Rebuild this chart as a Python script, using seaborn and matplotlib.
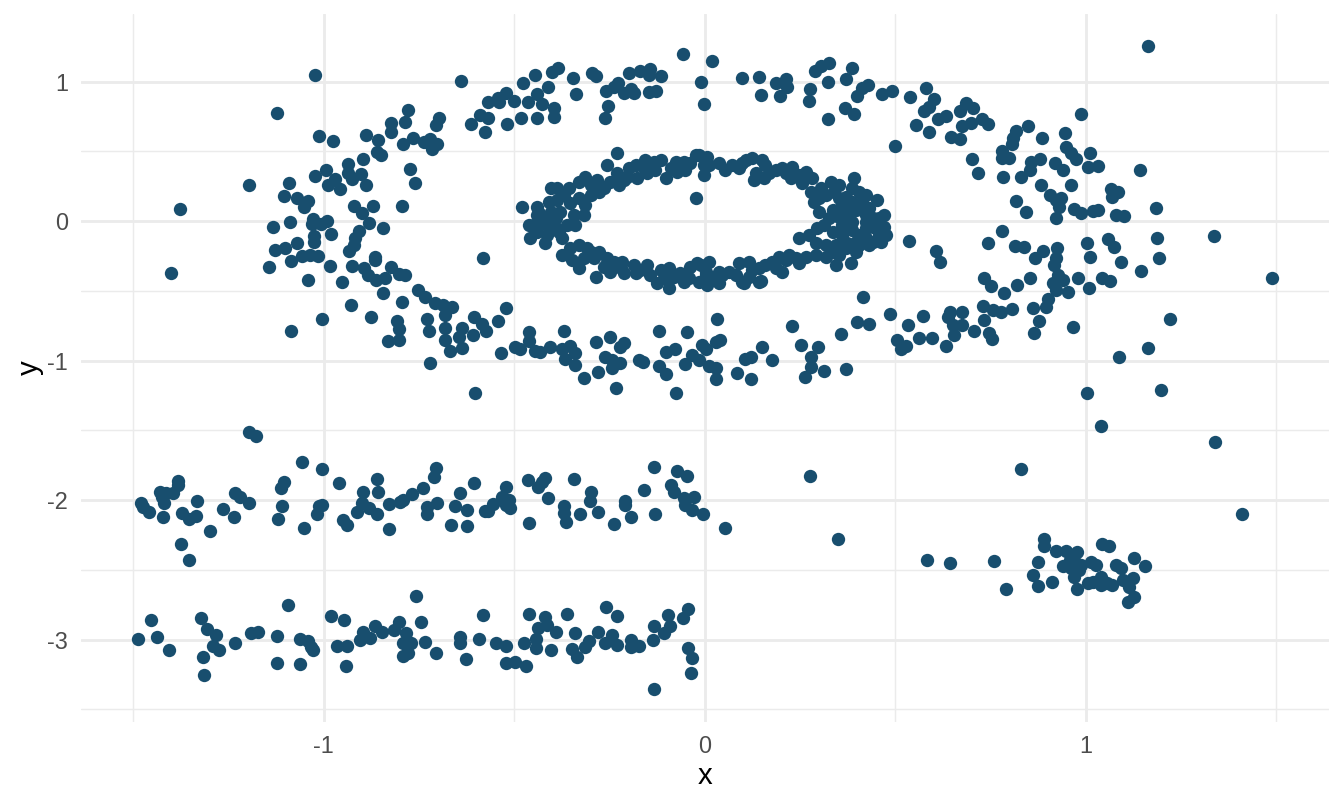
#!/usr/bin/env python3
# coding: utf-8
import pandas as pd
import seaborn as sns
import matplotlib.pyplot as plt

# ------------------------------------------------
# Data
# ------------------------------------------------
outer_ring = [
    (-1.022, 1.047), (-1.123, 0.776), (-1.014, 0.609), (-0.975, 0.573), (-0.640, 1.006), (-0.570, 0.855),
    (-0.543, 0.880), (-0.521, 0.915), (-0.590, 0.760), (-0.613, 0.695), (-0.576, 0.640), (-0.568, 0.740),
    (-0.520, 0.695), (-0.778, 0.796), (-0.787, 0.712), (-0.823, 0.700), (-0.823, 0.640), (-0.697, 0.740),
    (-0.706, 0.688), (-0.890, 0.616), (-0.859, 0.581), (-0.791, 0.550), (-0.765, 0.593), (-0.738, 0.568),
    (-0.721, 0.588), (-0.703, 0.550), (-0.715, 0.516), (-0.861, 0.497), (-0.851, 0.473), (-0.896, 0.442),
    (-0.936, 0.406), (-0.995, 0.366), (-1.023, 0.325), (-0.936, 0.342), (-0.902, 0.337), (-0.927, 0.299),
    (-0.971, 0.299), (-0.988, 0.258), (-0.957, 0.227), (-0.890, 0.258), (-0.775, 0.371), (-0.762, 0.270),
    (-0.794, 0.110), (-1.091, 0.275), (-1.197, 0.258), (-1.105, 0.181), (-1.071, 0.167), (-1.041, 0.146),
    (-1.051, 0.103), (-0.921, 0.110), (-0.872, 0.108), (-0.899, 0.060), (-1.089, -0.005), (-1.133, -0.045),
    (-1.028, 0.014), (-1.032, -0.024), (-0.993, 0.000), (-1.007, -0.024), (-0.881, -0.012), (-0.844, -0.052),
    (-0.980, -0.093), (-1.026, -0.105), (-1.025, -0.153), (-1.071, -0.160), (-1.102, -0.196), (-1.128, -0.208),
    (-0.909, -0.070), (-0.918, -0.124), (-0.922, -0.172), (-0.934, -0.215), (-0.865, -0.256), (-1.057, -0.249),
    (-1.036, -0.244), (-1.016, -0.251), (-1.086, -0.287),
    (-1.144, -0.332), (-1.041, -0.423), (-0.984, -0.323), (-0.953, -0.435), (-0.925, -0.323), (-0.894, -0.339),
    (-0.885, -0.387), (-0.863, -0.423), (-0.839, -0.411), (-0.824, -0.332), (-0.802, -0.380), (-0.787, -0.387),
    (-0.846, -0.518), (-0.929, -0.602), (-0.876, -0.686), (-1.004, -0.705), (-1.086, -0.786), (-0.794, -0.583),
    (-0.752, -0.495), (-0.734, -0.547), (-0.708, -0.586), (-0.686, -0.602), (-0.664, -0.614), (-0.681, -0.674),
    (-0.730, -0.702), (-0.725, -0.786), (-0.681, -0.765), (-0.683, -0.853), (-0.668, -0.930), (-0.638, -0.908),
    (-0.644, -0.829), (-0.638, -0.765), (-0.607, -0.686), (-0.585, -0.738), (-0.575, -0.786), (-0.609, -0.817),
    (-0.543, -0.717), (-0.534, -0.948), (-0.521, -0.621), (-0.809, -0.717), (-0.802, -0.776), (-0.832, -0.860),
    (-0.804, -0.853), (-0.721, -1.016), (-0.867, -0.280),
    (-0.541, 0.855), (-0.502, 0.860), (-0.482, 0.736), (-0.478, 0.991), (-0.464, 0.855), (-0.445, 1.047),
    (-0.441, 0.910), (-0.428, 0.839), (-0.412, 0.963), (-0.441, 0.736), (-0.397, 0.808), (-0.397, 0.748),
    (-0.401, 1.070), (-0.386, 1.095), (-0.347, 1.027), (-0.338, 0.910), (-0.296, 1.063), (-0.287, 1.042),
    (-0.259, 0.932), (-0.255, 0.824), (-0.261, 0.740), (-0.239, 0.963), (-0.228, 0.987), (-0.213, 0.915),
    (-0.200, 1.059), (-0.195, 0.944), (-0.187, 0.920), (-0.169, 1.077), (-0.145, 1.087), (-0.147, 1.047),
    (-0.115, 1.039), (-0.147, 0.923), (-0.128, 0.932), (-0.058, 1.195), (0.019, 1.149), (-0.011, 0.994),
    (-0.001, 0.837), (0.098, 1.027), (0.142, 1.030), (0.146, 0.903), (0.186, 0.987), (0.196, 0.898),
    (0.214, 1.018), (0.216, 0.963), (0.275, 0.944), (0.273, 0.860), (0.289, 1.075), (0.304, 1.111),
    (0.326, 1.130), (0.324, 0.999), (0.387, 1.095), (0.370, 1.016), (0.398, 0.898), (0.413, 0.956),
    (0.428, 0.975), (0.464, 0.910), (0.492, 0.934), (0.538, 0.891), (0.580, 0.956), (0.323, 0.729),
    (0.367, 0.808), (0.392, 0.765), (0.555, 0.688), (0.576, 0.789), (0.587, 0.640), (0.499, 0.540),
    (0.602, 0.875), (0.589, 0.820), (0.613, 0.731), (0.633, 0.753), (0.646, 0.604), (0.669, 0.588),
    (0.669, 0.789), (0.685, 0.844), (0.704, 0.808), (0.675, 0.683), (0.698, 0.700), (0.727, 0.731),
    (0.742, 0.693), (0.817, 0.645), (0.808, 0.593), (0.806, 0.550), (0.847, 0.683), (0.886, 0.593),
    (0.945, 0.629), (0.987, 0.767), (0.779, 0.504), (0.781, 0.449), (0.799, 0.449), (0.701, 0.444),
    (0.717, 0.342), (0.783, 0.313), (0.830, 0.313), (0.856, 0.425), (0.880, 0.442), (0.852, 0.366),
    (0.920, 0.414), (0.941, 0.366), (0.948, 0.528), (0.961, 0.485), (0.974, 0.444), (1.011, 0.485),
    (1.005, 0.385), (1.033, 0.396), (0.882, 0.258), (0.961, 0.258), (0.817, 0.146), (0.844, 0.067),
    (0.906, 0.186), (0.922, 0.151), (0.935, 0.163), (0.930, 0.098), (0.922, 0.024), (0.970, 0.084),
    (0.987, 0.055), (1.018, 0.072), (1.031, 0.079), (1.066, 0.229), (1.084, 0.210), (1.068, 0.174),
    (1.078, 0.043), (1.101, 0.038), (1.141, 0.366), (1.185, 0.095), (0.744, -0.156), (0.780, -0.070),
    (0.815, -0.179), (0.837, -0.184), (0.867, -0.267), (0.888, -0.215), (0.923, -0.191), (0.922, -0.267),
    (0.606, -0.215), (0.617, -0.292), (1.002, -0.160), (1.011, -0.256), (1.059, -0.129), (1.075, -0.184),
    (1.091, -0.292), (1.187, -0.120), (1.191, -0.267),
    (0.917, -0.315), (1.145, -0.358), (0.733, -0.411), (0.751, -0.464), (0.786, -0.518), (0.819, -0.459),
    (0.852, -0.411), (0.913, -0.447), (0.926, -0.387), (0.939, -0.423), (0.922, -0.495), (0.952, -0.511),
    (0.980, -0.406), (1.009, -0.478), (1.043, -0.411), (1.062, -0.428), (0.901, -0.561), (0.895, -0.619),
    (0.860, -0.626), (0.878, -0.717), (0.863, -0.801), (0.806, -0.631), (0.777, -0.650), (0.755, -0.638),
    (0.729, -0.609), (0.733, -0.710), (0.707, -0.786), (0.676, -0.650), (0.676, -0.746), (0.654, -0.817),
    (0.643, -0.650), (0.637, -0.686), (0.650, -0.746), (0.633, -0.896), (0.573, -0.679), (0.597, -0.837),
    (0.562, -0.837), (0.746, -0.805), (0.753, -0.846), (0.967, -0.758), (1.088, -0.973),
    (-0.498, -0.905), (-0.484, -0.920), (-0.461, -0.794), (-0.461, -0.860), (-0.445, -0.932), (-0.432, -0.937),
    (-0.406, -0.901), (-0.371, -0.786), (-0.375, -0.920), (-0.353, -0.896), (-0.366, -0.991), (-0.340, -0.948),
    (-0.342, -1.032), (-0.316, -1.128), (-0.285, -0.865), (-0.281, -1.085), (-0.248, -0.829), (-0.261, -0.977),
    (-0.244, -0.996), (-0.244, -1.052), (-0.222, -1.020), (-0.222, -0.905), (-0.213, -0.877), (-0.232, -1.195),
    (-0.173, -0.996), (-0.163, -1.009), (-0.121, -0.789), (-0.121, -1.039), (-0.103, -0.937), (-0.101, -1.097),
    (-0.079, -0.920), (-0.077, -1.235), (-0.047, -0.798), (-0.051, -1.025), (-0.033, -0.961), (-0.016, -0.996),
    (-0.007, -0.889), (0.002, -0.920), (0.012, -1.039), (0.032, -0.705), (0.030, -0.865), (0.041, -0.853),
    (0.030, -1.056), (0.030, -1.133), (0.085, -1.092), (0.105, -0.991), (0.120, -0.973), (0.120, -1.133),
    (0.149, -0.901), (0.177, -0.996), (0.229, -0.751), (0.252, -0.889), (0.278, -0.973), (0.279, -1.049),
    (0.262, -1.120), (0.298, -0.905), (0.313, -1.073), (0.370, -1.063), (0.357, -0.810), (0.398, -0.726),
    (0.415, -0.543), (0.431, -0.738), (0.486, -0.667), (0.505, -0.853), (0.514, -0.920), (0.527, -0.896),
    (0.534, -0.746),
]

inner_ring = [
    (-0.480, 0.103), (-0.441, 0.103), (-0.436, 0.055), (-0.449, -0.029), (-0.458, -0.124), (-0.441, -0.076),
    (-0.419, -0.160), (-0.414, -0.029), (-0.423, 0.031), (-0.405, 0.067), (-0.410, 0.139), (-0.388, 0.151),
    (-0.405, 0.239), (-0.388, 0.234), (-0.371, 0.186), (-0.357, 0.234), (-0.353, 0.127), (-0.344, 0.043),
    (-0.340, -0.029), (-0.318, 0.043), (-0.314, 0.115), (-0.331, 0.282), (-0.314, 0.318), (-0.300, 0.258),
    (-0.283, 0.294), (-0.279, 0.210), (-0.257, 0.401), (-0.248, 0.282), (-0.230, 0.485), (-0.230, 0.342),
    (-0.226, 0.258), (-0.204, 0.318), (-0.200, 0.378), (-0.182, 0.401), (-0.178, 0.306), (-0.156, 0.437),
    (-0.152, 0.342), (-0.130, 0.366), (-0.116, 0.437), (-0.103, 0.306), (-0.090, 0.378), (-0.077, 0.425),
    (-0.055, 0.425), (-0.051, 0.366), (-0.024, 0.473), (-0.003, 0.401), (-0.003, 0.330),
    (-0.462, -0.029), (-0.432, -0.005), (-0.392, 0.019), (-0.384, -0.076), (-0.375, -0.124), (-0.375, -0.244),
    (-0.353, -0.196), (-0.349, -0.280), (-0.331, -0.172), (-0.331, -0.339), (-0.318, -0.268), (-0.309, -0.196),
    (-0.292, -0.268), (-0.287, -0.399), (-0.279, -0.220), (-0.265, -0.327), (-0.257, -0.268), (-0.239, -0.291),
    (-0.248, -0.363), (-0.217, -0.291), (-0.213, -0.375), (-0.187, -0.315), (-0.182, -0.375), (-0.152, -0.315),
    (-0.143, -0.387), (-0.125, -0.447), (-0.116, -0.351), (-0.095, -0.339), (-0.095, -0.483), (-0.081, -0.399),
    (-0.064, -0.375), (-0.042, -0.411), (-0.038, -0.327), (-0.016, -0.435), (-0.020, -0.303), (0.002, -0.363),
    (0.006, -0.459),
    (-0.392, -0.053), (-0.362, -0.029), (-0.414, -0.100), (-0.441, 0.043), (-0.381, 0.067), (-0.331, 0.163),
    (-0.300, 0.186), (-0.265, 0.234), (-0.213, 0.294), (-0.160, 0.378), (-0.134, 0.425), (-0.072, 0.354),
    (-0.038, 0.413), (-0.300, -0.220), (-0.257, -0.303), (-0.221, -0.339), (-0.169, -0.351), (-0.108, -0.411),
    (-0.055, -0.435),
    (-0.016, 0.473), (0.006, 0.461), (0.037, 0.413), (0.054, 0.366), (0.072, 0.401), (0.089, 0.378),
    (0.107, 0.437), (0.124, 0.449), (0.133, 0.342), (0.129, 0.294), (0.151, 0.437), (0.155, 0.306),
    (0.159, 0.401), (0.186, 0.366), (0.203, 0.378), (0.225, 0.306), (0.229, 0.389), (0.247, 0.330),
    (0.256, 0.270), (0.265, 0.354), (0.282, 0.306), (0.278, 0.210), (0.286, 0.139), (0.304, 0.234),
    (0.317, 0.186), (0.330, 0.282), (0.339, 0.210), (0.352, 0.258), (0.370, 0.174), (0.392, 0.306),
    (0.405, 0.210), (0.413, 0.139), (0.431, 0.091), (0.453, 0.151), (0.470, 0.043), (0.335, 0.079),
    (0.352, 0.031), (0.378, 0.067), (0.396, 0.079), (0.370, -0.005), (0.300, 0.067), (0.326, 0.019),
    (0.360, 0.115), (0.387, 0.234), (0.422, 0.043), (0.440, 0.019),
    (0.011, 0.401), (0.098, 0.413), (0.168, 0.342), (0.212, 0.342), (0.300, 0.163), (0.352, 0.163),
    (0.387, 0.139), (0.422, 0.186), (0.457, 0.019), (0.422, -0.005), (0.387, -0.005), (0.440, -0.148),
    (0.370, -0.196), (0.396, -0.220), (0.247, -0.303), (0.186, -0.339), (0.116, -0.291), (0.037, -0.363),
    (0.221, -0.244),
    (0.247, -0.119), (0.295, -0.053), (0.313, -0.029), (0.335, -0.076), (0.361, -0.100), (0.387, -0.065),
    (0.405, -0.100), (0.422, -0.053), (0.440, -0.041), (0.457, -0.100), (0.470, -0.041), (0.475, -0.100),
    (0.462, -0.148), (0.291, -0.160), (0.317, -0.172), (0.343, -0.172), (0.374, -0.160), (0.405, -0.172),
    (0.431, -0.172), (0.383, -0.303), (0.352, -0.244), (0.335, -0.220), (0.317, -0.256), (0.291, -0.244),
    (0.265, -0.256), (0.238, -0.268), (0.212, -0.280), (0.194, -0.256), (0.203, -0.363), (0.177, -0.291),
    (0.159, -0.315), (0.142, -0.339), (0.124, -0.351), (0.142, -0.435), (0.116, -0.399), (0.098, -0.435),
    (0.089, -0.303), (0.081, -0.387), (0.063, -0.363), (0.045, -0.387), (0.037, -0.447), (0.019, -0.411),
    (0.011, -0.291), (0.002, -0.387), (-0.011, -0.315), (0.396, -0.148), (0.422, -0.124), (0.361, -0.029),
    (0.273, -0.100), (0.343, -0.315), (0.146, -0.428), (0.102, -0.447),
]

band_2 = [
    (-1.479, -2.019), (-1.474, -2.048), (-1.459, -2.084), (-1.430, -1.941), (-1.426, -1.976), (-1.419, -2.019),
    (-1.413, -1.952), (-1.396, -1.952), (-1.384, -1.862), (-1.384, -1.892), (-1.422, -2.124), (-1.372, -2.091),
    (-1.354, -2.138), (-1.336, -2.115), (-1.332, -2.007), (-1.376, -2.318), (-1.353, -2.430), (-1.298, -2.220),
    (-1.264, -2.065), (-1.235, -2.120), (-1.234, -1.948), (-1.220, -1.981), (-1.196, -2.024), (-1.121, -2.138),
    (-1.109, -2.043), (-1.113, -1.912), (-1.104, -1.873), (-1.057, -1.725), (-1.006, -1.778), (-1.052, -2.203),
    (-1.017, -2.100), (-1.014, -2.043), (-1.006, -2.036), (-0.960, -1.880), (-0.949, -2.143), (-0.940, -2.179),
    (-0.914, -2.084), (-0.901, -2.024), (-0.896, -1.945), (-0.881, -2.060), (-0.861, -2.100), (-0.861, -1.849),
    (-0.859, -1.941), (-0.830, -2.208), (-0.828, -2.029), (-0.800, -2.012), (-0.791, -2.000), (-0.769, -1.959),
    (-0.740, -1.916), (-0.728, -2.052), (-0.728, -2.102), (-0.710, -1.837), (-0.705, -1.773), (-0.702, -2.024),
    (-0.667, -2.179), (-0.655, -2.043), (-0.642, -1.952), (-0.625, -2.072), (-0.625, -2.186), (-0.605, -1.876),
    (-0.576, -2.079), (-0.568, -2.079), (-0.557, -2.029), (-0.533, -1.976), (-0.521, -1.909), (-0.521, -2.036),
    (-0.533, -2.000), (-0.515, -2.000), (-0.511, -2.060), (-0.464, -1.857), (-0.461, -2.167), (-0.438, -1.904),
    (-0.428, -1.869), (-0.420, -1.840), (-0.412, -1.988), (-0.371, -2.043), (-0.371, -2.091), (-0.364, -2.160),
    (-0.344, -1.849), (-0.327, -2.100), (-0.301, -2.005), (-0.298, -1.941), (-0.280, -2.084), (-0.239, -2.172),
    (-0.210, -2.005), (-0.210, -2.036), (-0.195, -2.120), (-0.160, -1.928), (-0.134, -1.766), (-0.130, -2.100),
    (-0.088, -1.892), (-0.081, -1.941), (-0.073, -1.792), (-0.055, -1.988), (-0.047, -1.826), (-0.053, -2.036),
    (-0.029, -1.976), (-0.035, -2.072), (-0.005, -2.100),
]

band_3 = [
    (-1.488, -2.999), (-1.454, -2.860), (-1.439, -2.980), (-1.407, -3.075), (-1.323, -2.848), (-1.306, -2.927),
    (-1.282, -2.968), (-1.290, -3.047), (-1.275, -3.075), (-1.318, -3.123), (-1.314, -3.254), (-1.234, -3.023),
    (-1.190, -2.951), (-1.172, -2.944), (-1.124, -2.975), (-1.124, -3.166), (-1.095, -2.755), (-1.063, -2.999),
    (-1.041, -3.009), (-1.034, -3.052), (-1.028, -3.075), (-1.063, -3.178), (-0.980, -2.832), (-0.947, -2.860),
    (-0.966, -3.047), (-0.938, -3.047), (-0.943, -3.190), (-0.905, -3.004), (-0.896, -2.944), (-0.879, -2.987),
    (-0.865, -2.901), (-0.848, -2.944), (-0.815, -2.932), (-0.802, -2.877), (-0.785, -2.956), (-0.791, -3.023),
    (-0.771, -3.027), (-0.791, -3.118), (-0.778, -3.099), (-0.759, -2.688), (-0.746, -2.872), (-0.734, -3.016),
    (-0.706, -3.095), (-0.642, -2.985), (-0.642, -3.027), (-0.627, -3.140), (-0.592, -2.997), (-0.583, -2.824),
    (-0.548, -3.023), (-0.522, -3.047), (-0.522, -3.171), (-0.499, -3.164), (-0.476, -3.027), (-0.469, -3.188),
    (-0.462, -2.819), (-0.442, -2.999), (-0.442, -3.063), (-0.438, -2.920), (-0.419, -2.837), (-0.414, -2.896),
    (-0.404, -3.075), (-0.391, -2.944), (-0.362, -2.819), (-0.342, -2.956), (-0.349, -3.070), (-0.336, -3.123),
    (-0.314, -3.052), (-0.305, -3.009), (-0.281, -2.944), (-0.259, -2.765), (-0.261, -3.023), (-0.244, -2.968),
    (-0.230, -2.832), (-0.230, -3.039), (-0.193, -3.004), (-0.193, -3.052), (-0.172, -3.044), (-0.134, -2.903),
    (-0.136, -3.004), (-0.134, -3.357), (-0.108, -2.956), (-0.096, -2.824), (-0.092, -2.903), (-0.057, -2.848),
    (-0.044, -2.783), (-0.044, -3.058), (-0.033, -3.135), (-0.036, -3.238),
]

blob = [
    (0.891, -2.282), (0.891, -2.327), (0.922, -2.363), (0.948, -2.363), (0.977, -2.370), (0.939, -2.471),
    (0.957, -2.430), (0.974, -2.454), (0.983, -2.502), (0.970, -2.550), (0.977, -2.640), (0.873, -2.442),
    (0.862, -2.538), (0.875, -2.616), (0.910, -2.590), (1.014, -2.442), (1.027, -2.466), (1.043, -2.318),
    (1.060, -2.327), (1.078, -2.466), (1.092, -2.490), (1.127, -2.414), (1.156, -2.473), (1.005, -2.597),
    (1.040, -2.550), (1.040, -2.609), (1.069, -2.609), (1.097, -2.573), (1.123, -2.557), (1.114, -2.621),
    (1.127, -2.693), (1.110, -2.733), (0.960, -2.490), (0.986, -2.466), (1.018, -2.585), (1.055, -2.597),
]

stray = [
    (1.162, 1.255), (-1.377, 0.084), (-1.402, -0.375), (-1.196, -1.510), (-1.177, -1.540), (1.489, -0.411),
    (1.340, -1.586), (1.409, -2.100), (1.336, -0.105), (1.002, -1.231), (1.040, -1.467), (1.196, -1.211),
    (1.220, -0.703), (1.162, -0.913), (0.276, -1.830), (0.350, -2.280), (0.053, -2.200), (0.583, -2.430),
    (0.830, -1.780), (0.644, -2.450), (0.760, -2.440), (0.790, -2.640), (0.536, -0.143), (-0.603, -1.231),
    (-0.583, -0.267), (-0.022, 0.167),
]

x_ticks = [-1, 0, 1]
y_ticks = [-3, -2, -1, 0, 1]
x_tick_labels = ["-1", "0", "1"]
y_tick_labels = ["-3", "-2", "-1", "0", "1"]
x_minor = [-1.5, -0.5, 0.5, 1.5]
y_minor = [-3.5, -2.5, -1.5, -0.5, 0.5]

# ------------------------------------------------
# Build table
# ------------------------------------------------
points = outer_ring + inner_ring + band_2 + band_3 + blob + stray
df = pd.DataFrame(points, columns=["x", "y"])

# ------------------------------------------------
# Plot
# ------------------------------------------------
sns.set_theme(style="white")
plt.rcParams['font.family'] = ['Liberation Sans', 'DejaVu Sans']

fig = plt.figure(figsize=(7.0, 806 / 192), dpi=192)
ax = fig.add_axes([0.0604, 0.1048, 0.9284, 0.878])

sns.scatterplot(data=df, x="x", y="y", color="#184e6e", s=25, linewidth=0,
                alpha=1, legend=False, ax=ax, zorder=3)

# ggplot-like 5% expansion
xr = df["x"].max() - df["x"].min()
yr = df["y"].max() - df["y"].min()
ax.set_xlim(df["x"].min() - 0.05 * xr, df["x"].max() + 0.05 * xr)
ax.set_ylim(df["y"].min() - 0.05 * yr, df["y"].max() + 0.05 * yr)

ax.set_xticks(x_ticks)
ax.set_xticklabels(x_tick_labels)
ax.set_yticks(y_ticks)
ax.set_yticklabels(y_tick_labels)
ax.set_xticks(x_minor, minor=True)
ax.set_yticks(y_minor, minor=True)

ax.grid(which="major", color="#EBEBEB", linewidth=1.07)
ax.grid(which="minor", color="#EBEBEB", linewidth=0.53)
ax.set_axisbelow(True)
for s in ax.spines.values():
    s.set_visible(False)

ax.tick_params(which="both", length=0)
ax.tick_params(which="major", labelsize=8.8, labelcolor="#4D4D4D", pad=5)
ax.set_xlabel("x", fontsize=11, color="black", labelpad=1.5)
ax.set_ylabel("y", fontsize=11, color="black", labelpad=1)

fig.savefig("out.png", dpi=192)
plt.close(fig)
